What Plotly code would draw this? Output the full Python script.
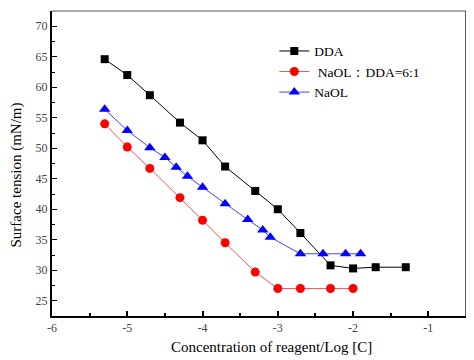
import plotly.graph_objects as go

dda_x = [-5.3, -5.0, -4.7, -4.3, -4.0, -3.7, -3.3, -3.0, -2.7, -2.3, -2.0, -1.7, -1.3]
dda_y = [64.6, 62.0, 58.7, 54.2, 51.3, 47.0, 43.0, 40.0, 36.1, 30.8, 30.3, 30.5, 30.5]

mix_x = [-5.3, -5.0, -4.7, -4.3, -4.0, -3.7, -3.3, -3.0, -2.7, -2.3, -2.0]
mix_y = [54.0, 50.2, 46.7, 41.9, 38.2, 34.5, 29.7, 27.0, 27.0, 27.0, 27.0]

naol_x = [-5.3, -5.0, -4.7, -4.5, -4.35, -4.2, -4.0, -3.7, -3.4, -3.2, -3.1, -2.7, -2.4, -2.1, -1.9]
naol_y = [56.4, 52.9, 50.1, 48.5, 46.9, 45.4, 43.6, 40.9, 38.3, 36.6, 35.4, 32.7, 32.7, 32.7, 32.7]

x_ticks = [-6, -5, -4, -3, -2, -1]
y_ticks = [25, 30, 35, 40, 45, 50, 55, 60, 65, 70]

x_title = "Concentration of reagent/Log [C]"
y_title = "Surface tension (mN/m)"

font = "Liberation Serif"

fig = go.Figure()
fig.add_trace(go.Scatter(
    x=dda_x, y=dda_y, name="DDA", mode="lines+markers",
    line=dict(color="black", width=1),
    marker=dict(symbol="square", size=8, color="black")))
fig.add_trace(go.Scatter(
    x=mix_x, y=mix_y, name=" NaOL：DDA=6:1", mode="lines+markers",
    line=dict(color="#ff5050", width=1),
    marker=dict(symbol="circle", size=9, color="#ff0000")))
fig.add_trace(go.Scatter(
    x=naol_x, y=naol_y, name="NaOL", mode="lines+markers",
    line=dict(color="#4040ff", width=1),
    marker=dict(symbol="triangle-up", size=10, color="#0000ff")))

# The page adds an 8px body margin, so the figure is sized to the visible area.
fig.update_layout(
    width=466, height=352,
    margin=dict(l=44, r=8, t=3, b=44, autoexpand=False),
    paper_bgcolor="white", plot_bgcolor="white",
    font=dict(family=font, size=13, color="black"),
    showlegend=True,
    legend=dict(x=0.537, y=0.919, xanchor="left", yanchor="top",
                bgcolor="rgba(0,0,0,0)", font=dict(family=font, size=13.5, color="black"),
                tracegroupgap=0, itemwidth=30),
    shapes=[
        dict(type="line", xref="paper", yref="paper", x0=0, x1=1, y0=1, y1=1,
             line=dict(color="#555555", width=1)),
        dict(type="line", xref="paper", yref="paper", x0=1, x1=1, y0=0, y1=1,
             line=dict(color="#222222", width=1.5)),
    ],
    annotations=[
        dict(text=x_title, xref="paper", yref="paper", x=0.5, y=0,
             xanchor="center", yanchor="middle", yshift=-31, xshift=12, showarrow=False,
             font=dict(family=font, size=15, color="black")),
        dict(text=y_title, xref="paper", yref="paper", x=0, y=0.5, textangle=-90,
             xanchor="center", yanchor="middle", xshift=-36, yshift=-12, showarrow=False,
             font=dict(family=font, size=15, color="black")),
    ],
)

fig.update_xaxes(
    range=[-6, -0.5], tickmode="array", tickvals=x_ticks,
    ticktext=[str(v) for v in x_ticks], automargin=False,
    ticks="inside", ticklen=5, tickwidth=2, tickcolor="black",
    minor=dict(dtick=0.5, tick0=-6, ticks="inside", ticklen=3, tickwidth=2, tickcolor="black"),
    showline=True, linecolor="black", linewidth=2,
    showgrid=False, zeroline=False,
    tickfont=dict(family=font, size=12, color="#444444"),
)
fig.update_yaxes(
    range=[22.5, 72.5], tickmode="array", tickvals=y_ticks,
    ticktext=[str(v) for v in y_ticks], automargin=False,
    ticks="inside", ticklen=5, tickwidth=1, tickcolor="black",
    minor=dict(dtick=2.5, tick0=22.5, ticks="inside", ticklen=3, tickwidth=1, tickcolor="black"),
    showline=True, linecolor="black", linewidth=2,
    showgrid=False, zeroline=False,
    tickfont=dict(family=font, size=12, color="#444444"),
)

fig.write_html("out.html")
